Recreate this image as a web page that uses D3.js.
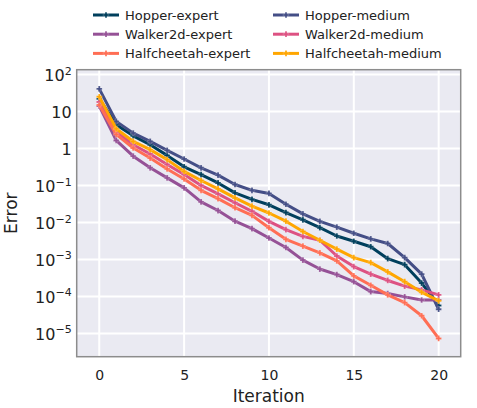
<!DOCTYPE html>
<html>
<head>
<meta charset="utf-8">
<script src="https://cdn.jsdelivr.net/npm/d3@7"></script>
<style>
  body { margin: 0; background: #fff; }
  text { font-family: "DejaVu Sans", Verdana, sans-serif; fill: #222; }
  .line { fill: none; stroke-width: 3; stroke-linejoin: round; }
</style>
</head>
<body>
<div id="chart"></div>
<script>
// iterations 0..20
var iterations = d3.range(0, 21);

var seriesNames = ["Hopper-expert", "Hopper-medium", "Walker2d-expert",
  "Walker2d-medium", "Halfcheetah-expert", "Halfcheetah-medium"];

var hopperExpert = [22, 4.4, 2.2, 1.26, 0.65, 0.32, 0.197, 0.117, 0.063, 0.042, 0.030,
  0.0185, 0.0118, 0.0072, 0.0043, 0.0031, 0.0022, 0.00105, 0.00072, 0.00023, 0.000057];
var hopperMedium = [41, 5.4, 2.6, 1.55, 0.89, 0.52, 0.30, 0.19, 0.106, 0.074, 0.061,
  0.031, 0.017, 0.0107, 0.0075, 0.0051, 0.0036, 0.0027, 0.00112, 0.0004, 0.000045];
var walkerExpert = [14, 1.65, 0.62, 0.30, 0.16, 0.086, 0.036, 0.021, 0.0108, 0.0068, 0.0038,
  0.0021, 0.00096, 0.00055, 0.00039, 0.00025, 0.000135, 0.00012, 0.000097, 0.00008, 0.00008];
var walkerMedium = [18, 2.8, 1.26, 0.71, 0.37, 0.197, 0.10, 0.059, 0.034, 0.020, 0.0107,
  0.0064, 0.0042, 0.0033, 0.00124, 0.00064, 0.0004, 0.00027, 0.00019, 0.00015, 0.00011];
var cheetahExpert = [15, 2.4, 1.03, 0.55, 0.28, 0.15, 0.074, 0.044, 0.025, 0.0155, 0.0072,
  0.0035, 0.0023, 0.0015, 0.00091, 0.00036, 0.0002, 0.00011, 0.000068, 0.00003, 0.0000073];
var cheetahMedium = [25, 3.4, 1.55, 0.93, 0.50, 0.24, 0.136, 0.081, 0.046, 0.0275, 0.018,
  0.0108, 0.0057, 0.0033, 0.0019, 0.00112, 0.00082, 0.00046, 0.00025, 0.00013, 0.000076];

var colors = ["#003f5c", "#444e86", "#955196", "#dd5182", "#ff6e54", "#ffa600"];

var xTicks = [0, 5, 10, 15, 20];
var yExponents = [2, 1, 0, -1, -2, -3, -4, -5];

var allSeries = [hopperExpert, hopperMedium, walkerExpert, walkerMedium, cheetahExpert, cheetahMedium];

// dimensions
var W = 477, H = 408;
var margin = {top: 69.7, right: 16.3, bottom: 51.3, left: 76.7},
  width = W - margin.left - margin.right,
  height = H - margin.top - margin.bottom;

// ranges (padded like the original autorange)
var x = d3.scaleLinear().domain([-1.33, 21.3]).range([0, width]);
var y = d3.scaleLog().domain([Math.pow(10, -5.63), Math.pow(10, 2.13)]).range([height, 0]);

var svg = d3.select("#chart")
  .append("svg")
    .attr("width", W)
    .attr("height", H);

var g = svg.append("g")
  .attr("transform", "translate(" + margin.left + "," + margin.top + ")");

// plot background
g.append("rect")
  .attr("width", width)
  .attr("height", height)
  .attr("fill", "#eaeaf2");

// grid
g.selectAll(".xgrid").data(xTicks).enter().append("line")
  .attr("x1", function(d) { return x(d); })
  .attr("x2", function(d) { return x(d); })
  .attr("y1", 0).attr("y2", height)
  .attr("stroke", "#fff").attr("stroke-width", 2);

g.selectAll(".ygrid").data(yExponents).enter().append("line")
  .attr("y1", function(d) { return y(Math.pow(10, d)); })
  .attr("y2", function(d) { return y(Math.pow(10, d)); })
  .attr("x1", 0).attr("x2", width)
  .attr("stroke", "#fff").attr("stroke-width", 2);

// frame
g.append("rect")
  .attr("width", width)
  .attr("height", height)
  .attr("fill", "none")
  .attr("stroke", "#8c8c8c")
  .attr("stroke-width", 1.5);

// x axis
var xAxis = d3.axisBottom(x).tickValues(xTicks).tickSize(0).tickPadding(13);
var gx = g.append("g")
  .attr("transform", "translate(0," + height + ")")
  .call(xAxis);
gx.select(".domain").remove();
gx.selectAll("text").style("font-size", "14px").attr("fill", "#222");

// y axis, labels as 10^n
var yAxis = d3.axisLeft(y).tickValues(yExponents.map(function(e) { return Math.pow(10, e); }))
  .tickSize(0).tickPadding(5).tickFormat("");
var gy = g.append("g").call(yAxis);
gy.select(".domain").remove();
gy.selectAll(".tick").each(function(d) {
  var e = Math.round(Math.log10(d));
  var t = d3.select(this).select("text")
    .style("font-size", "16px")
    .attr("fill", "#222")
    .attr("dy", "0.35em");
  if (e === 0) { t.text("1"); return; }
  if (e === 1) { t.text("10"); return; }
  t.append("tspan").text("10");
  t.append("tspan")
    .attr("dy", "-0.55em")
    .style("font-size", "11px")
    .text(e < 0 ? "\u2212" + (-e) : e);
});

// axis titles
svg.append("text")
  .attr("x", margin.left + width / 2)
  .attr("y", 402)
  .attr("text-anchor", "middle")
  .style("font-size", "17px")
  .text("Iteration");

svg.append("text")
  .attr("transform", "translate(17," + (margin.top + height / 2) + ") rotate(-90)")
  .attr("text-anchor", "middle")
  .style("font-size", "17px")
  .text("Error");

// lines
var valueline = d3.line()
  .x(function(d, i) { return x(iterations[i]); })
  .y(function(d) { return y(d); });

var cross = d3.symbol().type(d3.symbolCross).size(18);

allSeries.forEach(function(s, k) {
  g.append("path")
    .attr("class", "line")
    .attr("stroke", colors[k])
    .attr("d", valueline(s));
  g.selectAll(".m" + k).data(s).enter().append("path")
    .attr("d", cross)
    .attr("transform", function(d, i) { return "translate(" + x(iterations[i]) + "," + y(d) + ")"; })
    .attr("fill", colors[k])
    .attr("stroke", "rgba(255,255,255,0.35)")
    .attr("stroke-width", 0.5);
});

// legend, two columns
var legend = svg.append("g");
seriesNames.forEach(function(name, k) {
  var col = k % 2, row = Math.floor(k / 2);
  var lx = 93 + col * 180, ly = 15 + row * 19.2;
  var item = legend.append("g").attr("transform", "translate(" + lx + "," + ly + ")");
  item.append("line")
    .attr("x1", 0).attr("x2", 26)
    .attr("stroke", colors[k]).attr("stroke-width", 3);
  item.append("path")
    .attr("d", cross)
    .attr("transform", "translate(13,0)")
    .attr("fill", colors[k])
    .attr("stroke", "rgba(255,255,255,0.35)")
    .attr("stroke-width", 0.5);
  item.append("text")
    .attr("x", 32)
    .attr("dy", "0.35em")
    .style("font-size", "13px")
    .text(name);
});
</script>
</body>
</html>
